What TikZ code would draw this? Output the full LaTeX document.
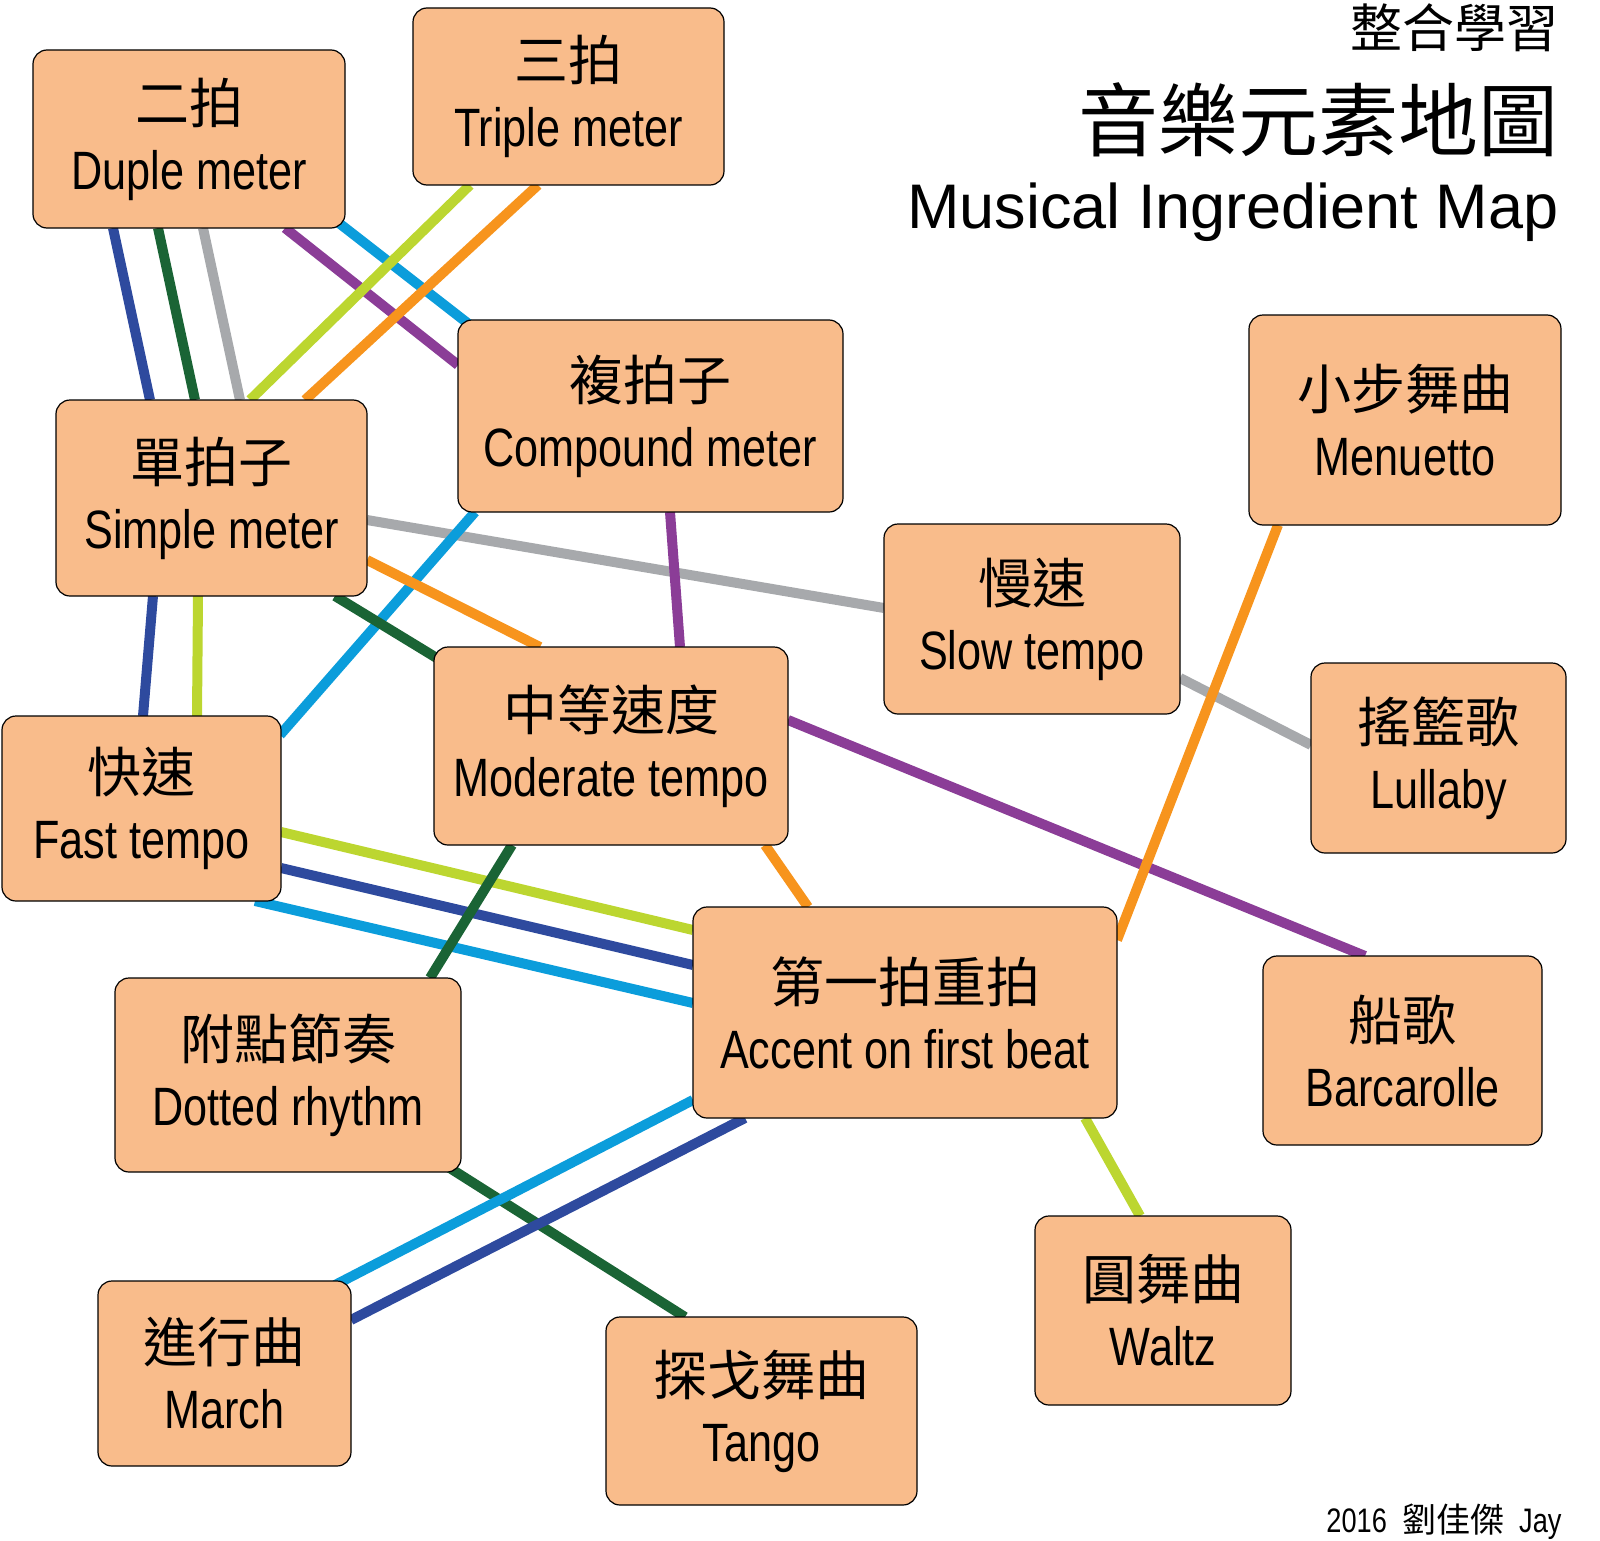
\documentclass[tikz,border=0pt]{standalone}
\usepackage{fontspec}
\setmainfont{Liberation Sans}[FakeStretch=0.8]
\newfontfamily\cjk{Noto Sans CJK TC}
\newfontfamily\ttl{Liberation Sans}
\definecolor{cdb}{HTML}{2E4A9E}
\definecolor{cdg}{HTML}{1A6435}
\definecolor{cgr}{HTML}{A7A9AC}
\definecolor{cpu}{HTML}{8B3D97}
\definecolor{ccy}{HTML}{0B9DDB}
\definecolor{cyg}{HTML}{BCD630}
\definecolor{cor}{HTML}{F7941D}
\definecolor{cbox}{HTML}{F9BC8B}
\begin{document}
\begin{tikzpicture}[x=1pt,y=-1pt,
 box/.style={draw=black,line width=1.2pt,fill=cbox,rounded corners=14pt,align=center,font=\fontsize{54}{66}\selectfont,inner sep=0pt},
 ln/.style={line width=10pt}]
\useasboundingbox (0,0) rectangle (1600,1541);
% connectors
\draw[ln,cdb] (113,228)--(150,400);
\draw[ln,cdg] (158,228)--(195,400);
\draw[ln,cgr] (203,228)--(240,400);
\draw[ln,ccy] (335,220)--(470,325);
\draw[ln,cpu] (285,228)--(458,365);
\draw[ln,cyg] (470,185)--(250,400);
\draw[ln,cor] (538,185)--(305,400);
\draw[ln,cgr] (367,520)--(884,608);
\draw[ln,cgr] (1180,678)--(1311,745);
\draw[ln,cdb] (153,596)--(143,716);
\draw[ln,cyg] (198,596)--(197,716);
\draw[ln,ccy] (475,512)--(280,735);
\draw[ln,cdg] (335,596)--(440,660);
\draw[ln,cor] (367,560)--(540,647);
\draw[ln,cpu] (670,512)--(680,647);
\draw[ln,cpu] (788,720)--(1365,956);
\draw[ln,cor] (1278,525)--(1117,940);
\draw[ln,cor] (765,845)--(808,907);
\draw[ln,cyg] (281,832)--(693,930);
\draw[ln,cdb] (281,868)--(693,965);
\draw[ln,ccy] (255,901)--(693,1003);
\draw[ln,cdg] (512,845)--(430,978);
\draw[ln,cdg] (445,1165)--(685,1317);
\draw[ln,ccy] (693,1100)--(335,1285);
\draw[ln,cdb] (745,1118)--(351,1320);
\draw[ln,cyg] (1085,1118)--(1140,1216);
% nodes
\newcommand\bx[7]{\node[box,minimum width=#4-#2,minimum height=#5-#3] (#1) at ({(#2+#4)/2},{(#3+#5)/2}) {{\cjk #6}\\#7};}
\bx{duple}{33}{50}{345}{228}{二拍}{Duple meter}
\bx{triple}{413}{8}{724}{185}{三拍}{Triple meter}
\bx{compound}{458}{320}{843}{512}{複拍子}{Compound meter}
\bx{simple}{56}{400}{367}{596}{單拍子}{Simple meter}
\bx{slow}{884}{524}{1180}{714}{慢速}{Slow tempo}
\bx{menuetto}{1249}{315}{1561}{525}{小步舞曲}{Menuetto}
\bx{lullaby}{1311}{663}{1566}{853}{搖籃歌}{Lullaby}
\bx{moderate}{434}{647}{788}{845}{中等速度}{Moderate tempo}
\bx{fast}{2}{716}{281}{901}{快速}{Fast tempo}
\bx{accent}{693}{907}{1117}{1118}{第一拍重拍}{Accent on first beat}
\bx{barca}{1263}{956}{1542}{1145}{船歌}{Barcarolle}
\bx{dotted}{115}{978}{461}{1172}{附點節奏}{Dotted rhythm}
\bx{waltz}{1035}{1216}{1291}{1405}{圓舞曲}{Waltz}
\bx{march}{98}{1281}{351}{1466}{進行曲}{March}
\bx{tango}{606}{1317}{917}{1505}{探戈舞曲}{Tango}
% titles
\node[anchor=east,font=\cjk\fontsize{52}{52}\selectfont] (t1) at (1562,28) {整合學習};
\node[anchor=east,font=\cjk\fontsize{80}{80}\selectfont] (t2) at (1562,120) {音樂元素地圖};
\node[anchor=east,font=\ttl\fontsize{63}{63}\selectfont] (t3) at (1562,212) {Musical Ingredient Map};
\node[anchor=east,font=\fontsize{34}{34}\selectfont] (t4) at (1565,1522) {2016 \ {\cjk 劉佳傑} \ Jay};
\end{tikzpicture}
\end{document}
